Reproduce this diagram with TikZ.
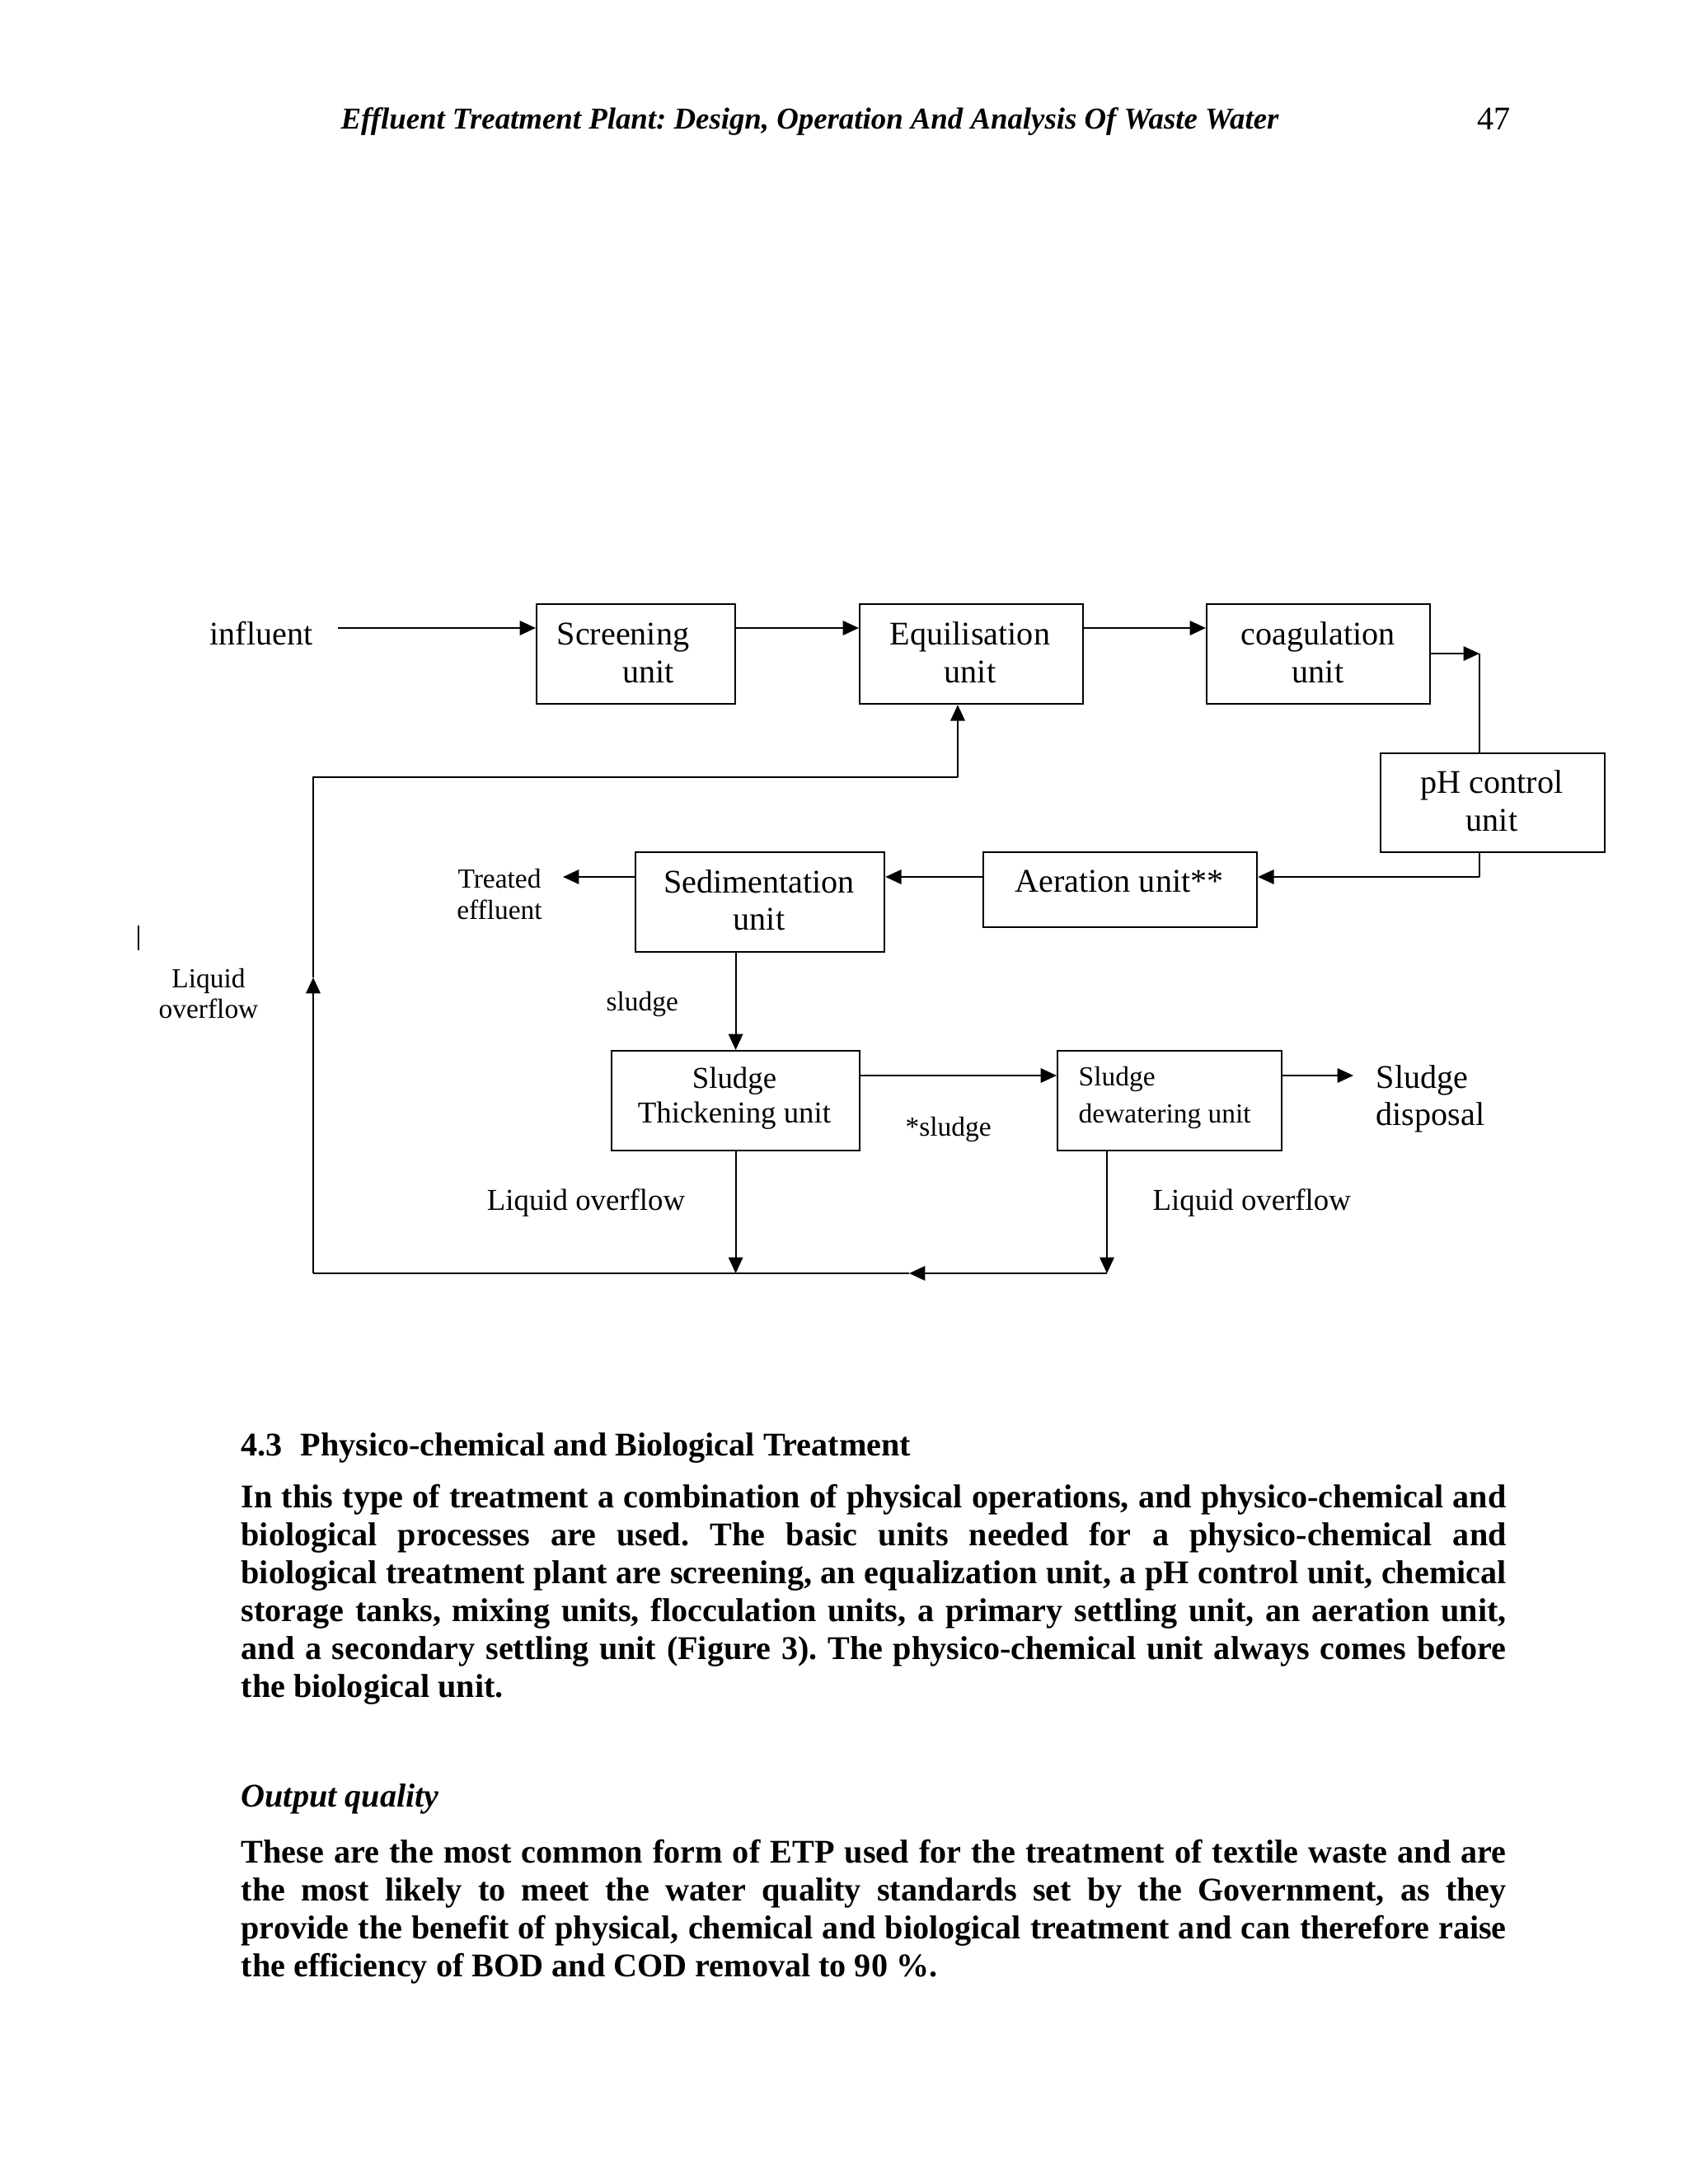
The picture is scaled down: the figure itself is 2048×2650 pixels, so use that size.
\documentclass[tikz,border=0pt]{standalone}
\usepackage{fontspec}
\setmainfont{Liberation Serif}
\usetikzlibrary{arrows.meta,calc}
\frenchspacing
\def\pxu{0.29883pt}
\newcommand{\jline}[1]{\makebox[458.7pt][s]{#1}}
\begin{document}
\begin{tikzpicture}[x=0.29883pt,y=-0.29883pt,
  box/.style={draw,line width=0.65pt,inner sep=0pt,anchor=north west},
  lbl/.style={inner sep=0pt,anchor=base},
  lblw/.style={inner sep=0pt,anchor=base west},
  conn/.style={line width=0.65pt},
  arr/.style={conn,-{Triangle[length=5.8pt,width=5.2pt]}},
  f12/.style={font=\fontsize{12}{13.8}\selectfont},
  f11/.style={font=\fontsize{11}{13}\selectfont},
  f10/.style={font=\fontsize{10}{12}\selectfont},
  fb/.style={font=\fontsize{12}{13.8}\selectfont\bfseries},
  fbi/.style={font=\fontsize{12}{13.8}\selectfont\bfseries\itshape},
  fhead/.style={font=\fontsize{11}{13}\selectfont\bfseries\itshape},
]
\useasboundingbox[fill=white] (0,0) rectangle (2048,2650);

% header
\node[lblw,fhead] (hdr) at (413,156) {Effluent Treatment Plant: Design, Operation And Analysis Of Waste Water};
\node[lblw,f12] (pg) at (1792,157) {47};

% boxes
\node[box,minimum width=241*\pxu,minimum height=121*\pxu] (scr) at (650,732) {};
\node[box,minimum width=271*\pxu,minimum height=121*\pxu] (eq) at (1042,732) {};
\node[box,minimum width=271*\pxu,minimum height=121*\pxu] (coag) at (1463,732) {};
\node[box,minimum width=272*\pxu,minimum height=120*\pxu] (ph) at (1674,913) {};
\node[box,minimum width=332*\pxu,minimum height=91*\pxu] (aer) at (1192,1033) {};
\node[box,minimum width=302*\pxu,minimum height=121*\pxu] (sed) at (770,1033) {};
\node[box,minimum width=301*\pxu,minimum height=121*\pxu] (thk) at (741,1274) {};
\node[box,minimum width=272*\pxu,minimum height=121*\pxu] (dew) at (1282,1274) {};

% box texts
\node[lblw,f12] (inf) at (254,782) {influent};
\node[lblw,f12] (scr1) at (675,782) {Screening};
\node[lblw,f12] (scr2) at (755,828) {unit};
\node[lbl,f12] (eq1) at (1177,782) {Equilisation};
\node[lbl,f12] (eq2) at (1177,828) {unit};
\node[lbl,f12] (co1) at (1599,782) {coagulation};
\node[lbl,f12] (co2) at (1599,828) {unit};
\node[lbl,f12] (ph1) at (1810,962) {pH control};
\node[lbl,f12] (ph2) at (1810,1008) {unit};
\node[lbl,f12] (se1) at (921,1083) {Sedimentation};
\node[lbl,f12] (se2) at (921,1128) {unit};
\node[lbl,f12] (ae1) at (1358,1082) {Aeration unit**};
\node[lbl,f10] (tr1) at (606,1077) {Treated};
\node[lbl,f10] (tr2) at (606,1115) {effluent};
\node[lbl,f10] (lo1) at (253,1198) {Liquid};
\node[lbl,f10] (lo2) at (253,1235) {overflow};
\node[lblw,f10] (slg) at (735,1226) {sludge};
\node[lbl,f11] (th1) at (891,1320) {Sludge};
\node[lbl,f11] (th2) at (891,1362) {Thickening unit};
\node[lblw,f10] (ssl) at (1098,1378) {*sludge};
\node[lblw,f10] (dw1) at (1308,1317) {Sludge};
\node[lblw,f10] (dw2) at (1308,1362) {dewatering unit};
\node[lblw,f12] (sd1) at (1669,1320) {Sludge};
\node[lblw,f12] (sd2) at (1669,1365) {disposal};
\node[lbl,f11] (lo3) at (711,1468) {Liquid overflow};
\node[lblw,f11] (lo4) at (1398,1468) {Liquid overflow};
\draw[conn] (168,1123) -- (168,1153);

% connectors
\coordinate (infs) at (410,762);
\draw[arr] (infs) -- (infs -| scr.west);
\draw[arr] (scr.east |- infs) -- (eq.west |- infs);
\draw[arr] (eq.east |- infs) -- (coag.west |- infs);
\coordinate (c1) at (1795,793);
\draw[arr] (coag.east |- c1) -- (c1);
\draw[conn] (c1) -- (c1 |- ph.north);
\coordinate (c2) at (1795,1064);
\draw[conn] (c2 |- ph.south) -- (c2);
\draw[arr] (c2) -- (c2 -| aer.east);
\draw[arr] (aer.west |- c2) -- (sed.east |- c2);
\coordinate (te) at (683,1064);
\draw[arr] (sed.west |- c2) -- (te);
\draw[arr] (thk.north |- sed.south) -- (thk.north);
\coordinate (c3) at (1000,1305);
\draw[arr] (thk.east |- c3) -- (dew.west |- c3);
\coordinate (sd) at (1642,1305);
\draw[arr] (dew.east |- sd) -- (sd);
\coordinate (bl) at (380,1545);
\draw[arr] (thk.south) -- (thk.south |- bl);
\coordinate (dv) at (1343,1545);
\draw[arr] (dv |- dew.south) -- (dv);
\coordinate (ba) at (1103,1545);
\draw[arr] (dv) -- (ba);
\draw[conn] (ba) -- (bl);
\coordinate (la) at (380,1186);
\draw[arr] (bl) -- (la);
\coordinate (tl) at (380,943);
\coordinate (tr) at (1162,943);
\draw[conn] (la) -- (tl) -- (tr);
\draw[arr] (tr) -- (tr |- eq.south);

% body text
\node[lblw,fb] (h43) at (292,1766) {4.3\hspace{0.55em}Physico-chemical and Biological Treatment};
\node[lblw,fb] (p1) at (292,1829) {\jline{In this type of treatment a combination of physical operations, and physico-chemical and}};
\node[lblw,fb] (p2) at (292,1875) {\jline{biological processes are used. The basic units needed for a physico-chemical and}};
\node[lblw,fb] (p3) at (292,1921) {\jline{biological treatment plant are screening, an equalization unit, a pH control unit, chemical}};
\node[lblw,fb] (p4) at (292,1967) {\jline{storage tanks, mixing units, flocculation units, a primary settling unit, an aeration unit,}};
\node[lblw,fb] (p5) at (292,2013) {\jline{and a secondary settling unit (Figure 3). The physico-chemical unit always comes before}};
\node[lblw,fb] (p6) at (292,2059) {the biological unit.};
\node[lblw,fbi] (oq) at (292,2192) {Output quality};
\node[lblw,fb] (q1) at (292,2260) {\jline{These are the most common form of ETP used for the treatment of textile waste and are}};
\node[lblw,fb] (q2) at (292,2306) {\jline{the most likely to meet the water quality standards set by the Government, as they}};
\node[lblw,fb] (q3) at (292,2352) {\jline{provide the benefit of physical, chemical and biological treatment and can therefore raise}};
\node[lblw,fb] (q4) at (292,2398) {the efficiency of BOD and COD removal to 90 \%.};
\end{tikzpicture}
\end{document}
